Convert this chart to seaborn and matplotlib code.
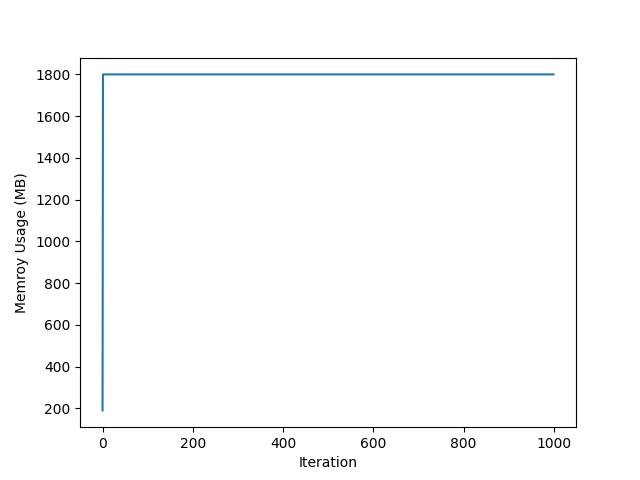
import matplotlib
matplotlib.use("Agg")
import matplotlib.pyplot as plt
import seaborn as sns
import pandas as pd

iterations = list(range(1000))
memory_mb = [190] + [1800] * 999

df = pd.DataFrame({"Iteration": iterations, "Memory": memory_mb})

fig, ax = plt.subplots(figsize=(6.4, 4.8), dpi=100)
sns.lineplot(data=df, x="Iteration", y="Memory", ax=ax, color="#1f77b4", linewidth=1.5)
ax.set_xlabel("Iteration")
ax.set_ylabel("Memroy Usage (MB)")
fig.savefig("out.png", dpi=100)
